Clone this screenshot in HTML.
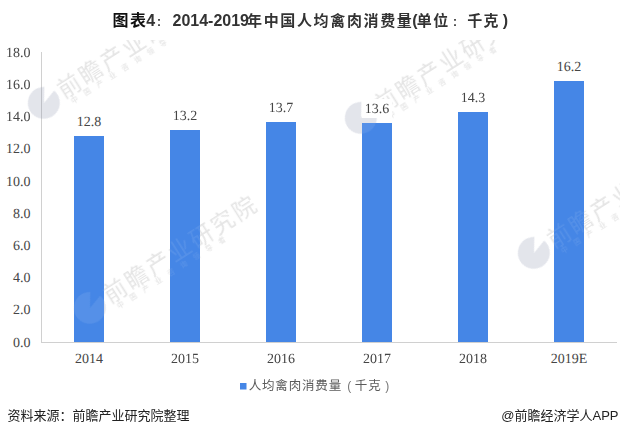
<!DOCTYPE html>
<html><head><meta charset="utf-8">
<style>
html,body{margin:0;padding:0;background:#fff;}
body{width:620px;height:436px;position:relative;overflow:hidden;}
svg{position:absolute;left:0;top:0;}
.num{font-family:"Liberation Serif","Noto Serif CJK SC",serif;font-size:14px;fill:#454545;text-rendering:geometricPrecision;}
.tc1{font-family:"Noto Sans CJK SC","Liberation Sans",sans-serif;font-size:16px;font-weight:700;fill:#111;}
.tc2{font-family:"Noto Sans CJK SC","Liberation Sans",sans-serif;font-size:16.5px;font-weight:700;fill:#333;}
.tc{font-family:"Noto Sans CJK SC","Liberation Sans",sans-serif;font-size:15px;font-weight:700;fill:#333;}
.td{font-family:"Liberation Sans","Noto Sans CJK SC",sans-serif;font-size:16px;font-weight:700;fill:#333;}
.tcol{font-family:"Liberation Sans","Noto Sans CJK SC",sans-serif;font-size:12px;font-weight:700;fill:#333;}
.wmt{font-family:"Noto Sans CJK SC","Liberation Sans",sans-serif;font-size:23px;font-weight:400;fill:#929292;letter-spacing:2.5px;}
.wms{font-family:"Noto Sans CJK SC","Liberation Sans",sans-serif;font-size:7px;font-weight:700;fill:#a0a0a0;letter-spacing:8px;}
.wmw .wmt,.wmw .wms{fill:#fff;}
.lg{font-family:"Noto Sans CJK SC","Liberation Sans",sans-serif;font-size:12.5px;fill:#5a5a5a;letter-spacing:0.83px;}
.lgp{font-family:"Liberation Sans","Noto Sans CJK SC",sans-serif;font-size:12px;fill:#777;}
.ft{font-family:"Liberation Sans","Noto Sans CJK SC",sans-serif;font-size:13px;fill:#222;}
</style></head><body>
<svg width="620" height="436" viewBox="0 0 620 436">
<line x1="41.5" y1="52" x2="41.5" y2="342" stroke="#d0d0d0" stroke-width="1"/>
<line x1="41" y1="342.5" x2="617" y2="342.5" stroke="#d0d0d0" stroke-width="1"/>
<g clip-path="url(#wc)" opacity="0.24"><g transform="translate(44,103) rotate(-32.5)"><path d="M0,0 L9,-13.4 A16,16 0 1,0 15.2,-5 Z" fill="#8a92ad"/><text x="19" y="6.5" class="wmt">前瞻产业研究院</text><text x="24" y="16" class="wms">中国产业咨询领导者</text></g><g transform="translate(90,308) rotate(-32.5)"><path d="M0,0 L9,-13.4 A16,16 0 1,0 15.2,-5 Z" fill="#8a92ad"/><text x="19" y="6.5" class="wmt">前瞻产业研究院</text><text x="24" y="16" class="wms">中国产业咨询领导者</text></g><g transform="translate(361,118) rotate(-32.5)"><path d="M0,0 L9,-13.4 A16,16 0 1,0 15.2,-5 Z" fill="#8a92ad"/><text x="19" y="6.5" class="wmt">前瞻产业研究院</text><text x="24" y="16" class="wms">中国产业咨询领导者</text></g><g transform="translate(534,253) rotate(-32.5)"><path d="M0,0 L9,-13.4 A16,16 0 1,0 15.2,-5 Z" fill="#8a92ad"/><text x="19" y="6.5" class="wmt">前瞻产业研究院</text><text x="24" y="16" class="wms">中国产业咨询领导者</text></g></g>
<rect x="74" y="136.0" width="30" height="206.0" fill="#4586e6"/>
<rect x="170" y="130.0" width="30" height="212.0" fill="#4586e6"/>
<rect x="266" y="122.0" width="30" height="220.0" fill="#4586e6"/>
<rect x="362" y="123.0" width="30" height="219.0" fill="#4586e6"/>
<rect x="458" y="112.0" width="30" height="230.0" fill="#4586e6"/>
<rect x="554" y="81.0" width="30" height="261.0" fill="#4586e6"/>
<defs><clipPath id="wc"><rect x="0" y="40" width="620" height="396"/></clipPath><clipPath id="bc"><rect x="74" y="136" width="30" height="206"/><rect x="170" y="130" width="30" height="212"/><rect x="266" y="122" width="30" height="220"/><rect x="362" y="123" width="30" height="219"/><rect x="458" y="112" width="30" height="230"/><rect x="554" y="81" width="30" height="261"/></clipPath></defs>
<g clip-path="url(#bc)"><g clip-path="url(#wc)" opacity="0.09" class="wmw"><g transform="translate(44,103) rotate(-32.5)"><path d="M0,0 L9,-13.4 A16,16 0 1,0 15.2,-5 Z" fill="#fff"/><text x="19" y="6.5" class="wmt">前瞻产业研究院</text><text x="24" y="16" class="wms">中国产业咨询领导者</text></g><g transform="translate(90,308) rotate(-32.5)"><path d="M0,0 L9,-13.4 A16,16 0 1,0 15.2,-5 Z" fill="#fff"/><text x="19" y="6.5" class="wmt">前瞻产业研究院</text><text x="24" y="16" class="wms">中国产业咨询领导者</text></g><g transform="translate(361,118) rotate(-32.5)"><path d="M0,0 L9,-13.4 A16,16 0 1,0 15.2,-5 Z" fill="#fff"/><text x="19" y="6.5" class="wmt">前瞻产业研究院</text><text x="24" y="16" class="wms">中国产业咨询领导者</text></g><g transform="translate(534,253) rotate(-32.5)"><path d="M0,0 L9,-13.4 A16,16 0 1,0 15.2,-5 Z" fill="#fff"/><text x="19" y="6.5" class="wmt">前瞻产业研究院</text><text x="24" y="16" class="wms">中国产业咨询领导者</text></g></g></g>
<rect x="74" y="112" width="30" height="19" fill="#fff"/>
<text transform="translate(89,126) scale(1,1)" class="num" text-anchor="middle">12.8</text>
<text transform="translate(89,363) scale(1,1)" class="num" text-anchor="middle">2014</text>
<rect x="170" y="106" width="30" height="19" fill="#fff"/>
<text transform="translate(185,120) scale(1,1)" class="num" text-anchor="middle">13.2</text>
<text transform="translate(185,363) scale(1,1)" class="num" text-anchor="middle">2015</text>
<rect x="266" y="98" width="30" height="19" fill="#fff"/>
<text transform="translate(281,112) scale(1,1)" class="num" text-anchor="middle">13.7</text>
<text transform="translate(281,363) scale(1,1)" class="num" text-anchor="middle">2016</text>
<rect x="362" y="99" width="30" height="19" fill="#fff"/>
<text transform="translate(377,113) scale(1,1)" class="num" text-anchor="middle">13.6</text>
<text transform="translate(377,363) scale(1,1)" class="num" text-anchor="middle">2017</text>
<rect x="458" y="88" width="30" height="19" fill="#fff"/>
<text transform="translate(473,102) scale(1,1)" class="num" text-anchor="middle">14.3</text>
<text transform="translate(473,363) scale(1,1)" class="num" text-anchor="middle">2018</text>
<rect x="554" y="57" width="30" height="19" fill="#fff"/>
<text transform="translate(569,71) scale(1,1)" class="num" text-anchor="middle">16.2</text>
<text transform="translate(569,363) scale(1,1)" class="num" text-anchor="middle">2019E</text>
<text transform="translate(30.5,346.6) scale(1,1)" class="num" text-anchor="end">0.0</text>
<text transform="translate(30.5,314.4) scale(1,1)" class="num" text-anchor="end">2.0</text>
<text transform="translate(30.5,282.2) scale(1,1)" class="num" text-anchor="end">4.0</text>
<text transform="translate(30.5,250.0) scale(1,1)" class="num" text-anchor="end">6.0</text>
<text transform="translate(30.5,217.8) scale(1,1)" class="num" text-anchor="end">8.0</text>
<text transform="translate(30.5,185.6) scale(1,1)" class="num" text-anchor="end">10.0</text>
<text transform="translate(30.5,153.4) scale(1,1)" class="num" text-anchor="end">12.0</text>
<text transform="translate(30.5,121.2) scale(1,1)" class="num" text-anchor="end">14.0</text>
<text transform="translate(30.5,89.0) scale(1,1)" class="num" text-anchor="end">16.0</text>
<text transform="translate(30.5,56.8) scale(1,1)" class="num" text-anchor="end">18.0</text>
<text x="112.4" y="26" class="tc1" style="letter-spacing:1.5px">图表</text>
<text x="146.3" y="26" class="td">4</text>
<text x="157" y="26" class="tcol">:</text>
<text x="172.5" y="26" class="td">2014-2019</text>
<text x="247" y="26" class="tc" style="letter-spacing:1.65px">年中国人均禽肉消费量</text>
<text x="412.3" y="26" class="td">(</text>
<text x="416.7" y="26" class="tc" style="letter-spacing:1.6px">单位</text>
<text x="453" y="26" class="tcol">:</text>
<text x="467.3" y="26" class="tc" style="letter-spacing:1.1px">千克</text>
<text x="502.8" y="26" class="td">)</text>
<rect x="240" y="383" width="6.5" height="6.5" fill="#4586e6"/>
<text x="248.7" y="389.8" class="lg">人均禽肉消费量</text>
<text x="349.3" y="389.5" class="lgp" text-anchor="middle">(</text>
<text x="354.8" y="389.8" class="lg">千克</text>
<text x="387.2" y="389.5" class="lgp" text-anchor="middle">)</text>
<text x="7.5" y="420" class="ft">资料来源：前瞻产业研究院整理</text>
<text x="618.5" y="420" class="ft" text-anchor="end">@前瞻经济学人APP</text>
</svg>
</body></html>
